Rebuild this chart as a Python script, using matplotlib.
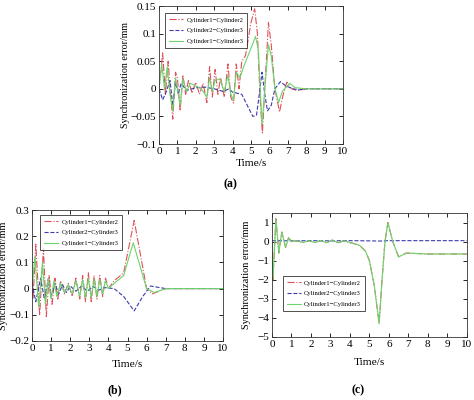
import numpy as np
import matplotlib
matplotlib.use("Agg")
import matplotlib.pyplot as plt

plt.rcParams['font.family'] = ['Liberation Serif', 'DejaVu Serif']

# ---- panel (a) ----
a_t12 = [0.0, 0.1, 0.2, 0.35, 0.5, 0.6, 0.75, 0.9, 1.0, 1.15, 1.3, 1.45, 1.6, 1.8, 2.0, 2.2, 2.4,
         2.6, 2.75, 2.9, 3.05, 3.2, 3.35, 3.55, 3.75, 3.9, 4.05, 4.2, 4.35, 4.5, 4.7, 5.0, 5.2,
         5.35, 5.5, 5.62, 5.75, 5.95, 6.1, 6.3, 6.55, 6.75, 6.95, 7.2, 7.5, 8.0, 10.0]
a_v12 = [0.0, 0.03, 0.065, -0.01, 0.05, 0.0, -0.055, 0.03, 0.02, -0.04, 0.025, -0.01, 0.015,
         -0.008, 0.012, -0.01, 0.01, -0.025, 0.04, -0.015, 0.035, -0.01, 0.02, -0.015, 0.045,
         -0.015, -0.026, 0.045, 0.0, 0.05, 0.06, 0.12, 0.145, 0.1, -0.02, -0.08, 0.0, 0.12,
         0.08, 0.0, -0.042, -0.01, 0.012, 0.0, -0.003, 0.0, 0.0]

a_t23 = [0.0, 0.2, 0.4, 0.6, 0.75, 0.9, 1.05, 1.2, 1.5, 2.0, 2.5, 3.0, 3.5, 3.8, 4.0, 4.5, 4.8,
         5.1, 5.3, 5.45, 5.6, 5.75, 5.9, 6.1, 6.3, 6.6, 6.9, 7.3, 7.6, 8.0, 10.0]
a_v23 = [0.0, -0.02, -0.005, 0.015, -0.03, 0.012, -0.01, 0.01, -0.003, 0.002, 0.003, 0.0,
         -0.005, 0.0, -0.006, -0.01, -0.03, -0.05, -0.048, -0.01, 0.03, -0.01, -0.04, -0.03,
         0.0, 0.013, 0.005, 0.0, -0.002, 0.0, 0.0]

a_t13 = [0.0, 0.15, 0.3, 0.45, 0.6, 0.75, 0.9, 1.15, 1.3, 1.5, 1.7, 2.0, 2.3, 2.6, 2.75, 2.9,
         3.05, 3.3, 3.55, 3.75, 3.9, 4.05, 4.2, 4.4, 4.6, 4.9, 5.25, 5.4, 5.6, 5.75, 5.95, 6.1,
         6.3, 6.5, 6.7, 7.1, 7.4, 8.0, 10.0]
a_v13 = [0.0, 0.045, 0.0, 0.04, -0.01, -0.04, 0.02, -0.03, 0.018, -0.005, 0.01, 0.005, 0.0,
         -0.015, 0.02, -0.005, 0.015, 0.018, -0.005, 0.025, -0.01, -0.02, 0.03, 0.02, 0.04,
         0.065, 0.095, 0.07, -0.065, 0.0, 0.08, 0.06, 0.0, -0.025, -0.005, 0.01, 0.002, 0.0, 0.0]

# ---- panel (b) ----
b_t12 = [0.0, 0.05, 0.2, 0.4, 0.6, 0.75, 0.9, 1.05, 1.2, 1.35, 1.5, 1.7, 1.9, 2.1, 2.3, 2.5,
         2.65, 2.8, 2.95, 3.1, 3.25, 3.4, 3.55, 3.7, 3.85, 4.0, 4.3, 4.8, 5.35, 6.0, 6.3, 7.0,
         8.0, 10.0]
b_v12 = [0.0, -0.04, 0.17, -0.1, 0.155, -0.107, 0.05, -0.06, 0.04, -0.04, 0.03, -0.02, 0.02,
         -0.03, 0.04, -0.04, 0.05, -0.05, 0.06, -0.05, 0.05, -0.04, 0.05, -0.03, 0.04, 0.0,
         0.03, 0.06, 0.26, 0.0, -0.02, 0.0, 0.0, 0.0]

b_t23 = [0.0, 0.2, 0.45, 0.65, 0.85, 1.0, 1.2, 1.4, 1.6, 1.8, 2.0, 2.3, 2.6, 2.9, 3.2, 3.5,
         3.8, 4.3, 4.8, 5.35, 5.8, 6.2, 6.6, 7.0, 8.0, 10.0]
b_v23 = [0.02, -0.05, 0.04, -0.04, 0.035, -0.03, 0.02, -0.02, 0.015, -0.015, 0.01, -0.01,
         0.01, -0.01, 0.008, -0.006, 0.004, 0.0, -0.03, -0.085, -0.03, 0.01, 0.005, 0.0,
         0.0, 0.0]

b_t13 = [0.0, 0.15, 0.35, 0.55, 0.7, 0.85, 1.0, 1.15, 1.3, 1.5, 1.7, 1.9, 2.1, 2.3, 2.5, 2.65,
         2.8, 2.95, 3.1, 3.25, 3.4, 3.55, 3.7, 3.85, 4.0, 4.3, 4.8, 5.3, 6.0, 6.4, 7.0, 8.0,
         10.0]
b_v13 = [0.0, 0.12, -0.07, 0.1, -0.06, 0.04, -0.04, 0.03, -0.03, 0.02, -0.015, 0.015, -0.02,
         0.03, -0.03, 0.035, -0.035, 0.04, -0.035, 0.035, -0.03, 0.035, -0.02, 0.03, 0.0,
         0.02, 0.05, 0.175, 0.0, -0.015, 0.0, 0.0, 0.0]

# ---- panel (c) ----
c_t12 = [0.0, 0.05, 0.2, 0.35, 0.5, 0.7, 0.85, 1.0, 1.3, 1.6, 1.9, 2.2, 2.5, 2.8, 3.1, 3.4,
         3.7, 4.0, 4.2, 4.5, 4.8, 5.0, 5.25, 5.5, 5.65, 5.8, 5.95, 6.2, 6.5, 6.9, 8.0, 10.0]
c_v12 = [0.0, -2.0, 1.2, -0.6, 0.5, -0.3, 0.2, 0.0, 0.05, -0.05, 0.05, -0.05, 0.06, -0.06,
         0.08, -0.06, 0.05, -0.05, -0.1, -0.2, -0.5, -1.0, -2.3, -4.3, -2.0, 0.0, 1.0, 0.0,
         -0.8, -0.6, -0.65, -0.65]
c_v13 = c_v12

c_t23 = [0.0, 1.0, 2.0, 3.0, 4.0, 5.0, 5.5, 6.0, 7.0, 8.0, 10.0]
c_v23 = [0.05, 0.04, 0.05, 0.04, 0.05, 0.04, 0.03, 0.05, 0.05, 0.05, 0.05]

names = ['Cylinder1\u2212Cylinder2', 'Cylinder2\u2212Cylinder3', 'Cylinder1\u2212Cylinder3']
xticks = list(range(0, 11))
a_yticks = [-0.1, -0.05, 0, 0.05, 0.1, 0.15]
a_ylabels = ['\u22120.1', '\u22120.05', '0', '0.05', '0.1', '0.15']
b_yticks = [-0.2, -0.1, 0, 0.1, 0.2, 0.3]
b_ylabels = ['\u22120.2', '\u22120.1', '0', '0.1', '0.2', '0.3']
c_yticks = [-5, -4, -3, -2, -1, 0, 1]
c_ylabels = ['\u22125', '\u22124', '\u22123', '\u22122', '\u22121', '0', '1']

red = '#e0505a'
blue = '#3c3cb0'
green = '#6cd46c'

fig = plt.figure(figsize=(4.74, 4.0), dpi=100)


def draw_panel(rect, series, ylim, yticks, ylabels, leg_anchor, leg_loc, ylab_x, ylab_size,
               xlab_y, tag, tag_xy):
    ax = fig.add_axes(rect)
    (t12, v12), (t23, v23), (t13, v13) = series
    ax.plot(t12, v12, color=red, ls='-.', lw=0.8, label=names[0])
    ax.plot(t23, v23, color=blue, ls='--', lw=0.8, label=names[1])
    ax.plot(t13, v13, color=green, ls='-', lw=0.8, label=names[2])
    ax.set_xlim(0, 10)
    ax.set_ylim(*ylim)
    ax.set_xticks(xticks)
    ax.set_xticklabels([str(x) for x in xticks])
    ax.set_yticks(yticks)
    ax.set_yticklabels(ylabels)
    ax.tick_params(direction='in', top=True, right=True, length=3, width=0.6,
                   labelsize=8, pad=2)
    for s in ax.spines.values():
        s.set_linewidth(0.6)
        s.set_color('#333333')
    ax.set_xlabel('Time/s', fontsize=8.2)
    ax.xaxis.set_label_coords(0.5, xlab_y)
    ax.set_ylabel('Synchronization error/mm', fontsize=ylab_size)
    ax.yaxis.set_label_coords(ylab_x, 0.5)
    leg = ax.legend(loc=leg_loc, bbox_to_anchor=leg_anchor, fontsize=4.8, handlelength=2.1,
                    frameon=True, fancybox=False, borderpad=0.6, labelspacing=0.75,
                    handletextpad=0.5, borderaxespad=0)
    leg.get_frame().set_edgecolor('black')
    leg.get_frame().set_linewidth(0.6)
    fig.text(tag_xy[0], tag_xy[1], tag, fontsize=8.5, fontweight='bold',
             ha='center', va='center')
    return ax


ax_a = draw_panel([0.3354, 0.64, 0.3882, 0.345],
                  [(a_t12, a_v12), (a_t23, a_v23), (a_t13, a_v13)],
                  (-0.1, 0.15), a_yticks, a_ylabels, (0.033, 0.95), 'upper left',
                  -0.16, 7.2, -0.11, '(a)', (230 / 474, 1 - 184 / 400))
ax_b = draw_panel([0.0675, 0.1475, 0.403, 0.3275],
                  [(b_t12, b_v12), (b_t23, b_v23), (b_t13, b_v13)],
                  (-0.2, 0.3), b_yticks, b_ylabels, (0.042, 0.962), 'upper left',
                  -0.126, 7.4, -0.145, '(b)', (115 / 474, 1 - 390 / 400))
ax_c = draw_panel([0.5738, 0.1575, 0.411, 0.31],
                  [(c_t12, c_v12), (c_t23, c_v23), (c_t12, c_v13)],
                  (-5, 1.5), c_yticks, c_ylabels, (0.056, 0.21), 'lower left',
                  -0.108, 7.4, -0.17, '(c)', (358 / 474, 1 - 390 / 400))

fig.savefig('out.png', dpi=100)
